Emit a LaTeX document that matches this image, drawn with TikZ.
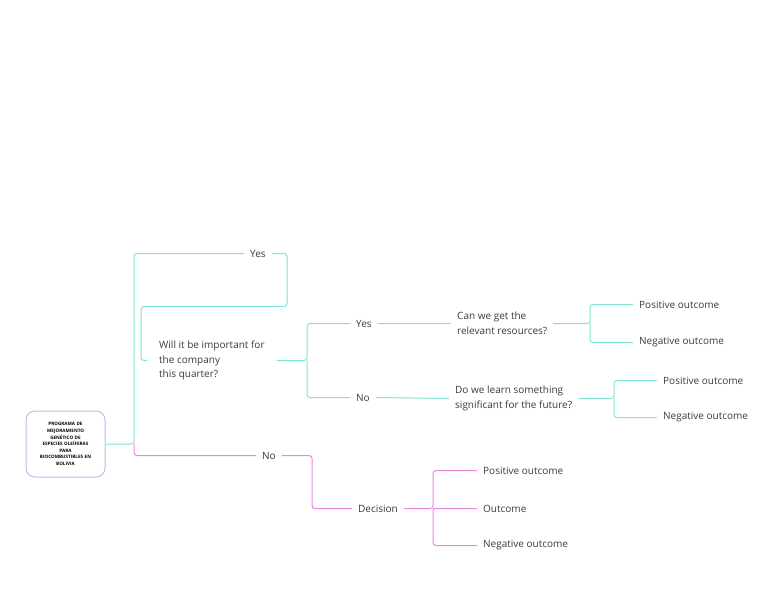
\documentclass[tikz,border=0pt]{standalone}
\usepackage{fontspec}
\setmainfont{Open Sans}
\usetikzlibrary{positioning}
\definecolor{BranchCyan}{HTML}{7FE3D5}
\definecolor{BranchPink}{HTML}{E887E2}
\definecolor{RootRule}{HTML}{C8B4F0}
\definecolor{LabelInk}{HTML}{3A3A3A}

\begin{document}
\begin{tikzpicture}[x=1pt,y=-1pt,
  root/.style={rounded corners=9pt, draw=RootRule, line width=1pt,
               minimum width=79pt, minimum height=66pt, text width=72pt,
               align=center, inner sep=0pt,
               font=\fontsize{4.6}{6.6}\selectfont\bfseries},
  lbl/.style={anchor=west, inner xsep=6pt, inner ysep=1pt, text=LabelInk,
              font=\fontsize{10}{14.5}\selectfont},
  ask/.style={lbl, align=left},
  cyanline/.style={draw=BranchCyan, line width=1pt, rounded corners=3pt},
  pinkline/.style={draw=BranchPink, line width=1pt, rounded corners=3pt}]
  \useasboundingbox (0,0) rectangle (768,594);

  % root
  \node[root] (prog) at (65.5,444) {PROGRAMA DE\\ MEJORAMIENTO\\ GENÉTICO DE\\ ESPECIES OLEÍFERAS\\ PARA\\ BIOCOMBUSTIBLES EN\\ BOLIVIA};
  \coordinate (split) at (134,444);

  % upper (cyan) branch
  \node[lbl] (yesA) at (244,253.5) {Yes};
  \node[ask, inner xsep=12pt] (will) at (147,360.5) {Will it be important for\\ the company\\ this quarter?};
  \coordinate (fork2) at (307,360.5);
  \node[lbl] (yesB) at (350,323.5) {Yes};
  \node[lbl] (noB) at (350,397.5) {No};
  \node[ask] (canget) at (451,323.5) {Can we get the\\ relevant resources?};
  \node[ask] (learn) at (449,398.5) {Do we learn something\\ significant for the future?};
  \coordinate (fork3) at (590,323.5);
  \node[lbl] (posA) at (633,304.5) {Positive outcome};
  \node[lbl] (negA) at (633,342.5) {Negative outcome};
  \coordinate (fork4) at (614,398.5);
  \node[lbl] (posB) at (657,380.5) {Positive outcome};
  \node[lbl] (negB) at (657,417.5) {Negative outcome};

  % lower (pink) branch
  \node[lbl] (noA) at (256,455.5) {No};
  \node[lbl] (decision) at (352,508.5) {Decision};
  \coordinate (fork5) at (433,508.5);
  \node[lbl] (posC) at (477,470.5) {Positive outcome};
  \node[lbl] (outC) at (477,508.5) {Outcome};
  \node[lbl] (negC) at (477,545.5) {Negative outcome};

  % connectors
  \draw[cyanline] (prog.east) -- (split) |- (yesA.west)
    (yesA.east) -- (287,253.5) -- (287,306.5) -- (141,306.5) -- (141,360.5) -- (will.west)
    (will.east) -- (fork2) |- (yesB.west)
    (fork2) |- (noB.west)
    (yesB.east) -- (canget.west)
    (noB.east) -- (learn.west)
    (canget.east) -- (fork3) |- (posA.west)
    (fork3) |- (negA.west)
    (learn.east) -- (fork4) |- (posB.west)
    (fork4) |- (negB.west);

  \draw[pinkline] (split) |- (noA.west)
    (noA.east) -- (312,455.5) |- (decision.west)
    (decision.east) -- (fork5) |- (posC.west)
    (fork5) -- (outC.west)
    (fork5) |- (negC.west);
\end{tikzpicture}
\end{document}
